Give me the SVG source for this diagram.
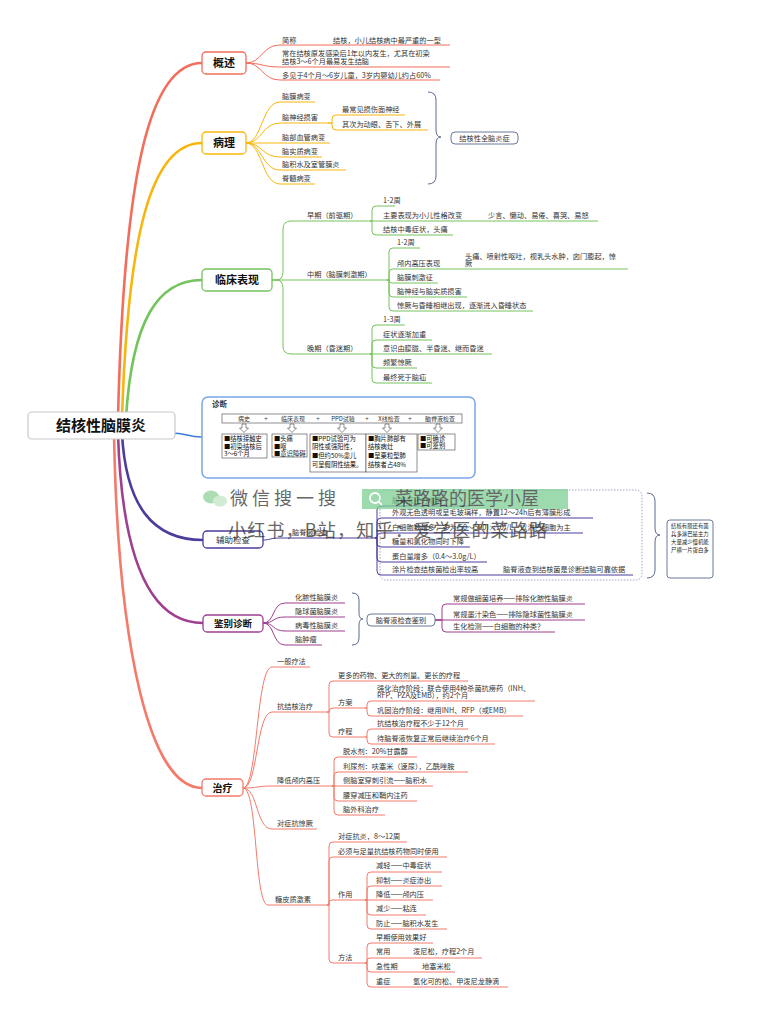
<svg xmlns="http://www.w3.org/2000/svg" width="768" height="1024" viewBox="0 0 768 1024">
<style>
text{font-family:"Noto Sans CJK SC","Noto Sans",sans-serif;fill:#333}
.t{font-size:7.2px}
.s{font-size:6.3px;fill:#111}
.n{font-weight:bold;fill:#111;text-anchor:middle}
.l{fill:none;stroke-width:1}
.m{fill:none;stroke-width:2.6;stroke-linecap:round}
.c1{stroke:#f26d5b}.c2{stroke:#f6b60d}.c3{stroke:#74c35c}.c4{stroke:#3d7bd9}.c5{stroke:#4a3d9c}.c6{stroke:#9e3f8f}.c7{stroke:#f47a6b}
.br{fill:none;stroke:#5d6b8c;stroke-width:1}
.bx{fill:#fff;stroke-width:1.3}
.db{fill:#fff;stroke:#444;stroke-width:0.6}
.k{font-size:5.4px;fill:#222}
</style>
<rect width="768" height="1024" fill="#fff"/>
<g id="connectors">
<path class="m c1" d="M118,418 C124,170 150,63 202,63"/>
<path class="m c2" d="M122,418 C128,230 152,143 202,143"/>
<path class="m c3" d="M126,418 C132,320 158,280 202,280"/>
<path class="m c4" d="M170,433 C188,433 186,437 202,437" style="stroke-width:1.6"/>
<path class="m c5" d="M122,434 C126,505 152,540 203,540"/>
<path class="m c6" d="M118,434 C122,560 150,623 203,623"/>
<path class="m c7" d="M114,434 C118,650 150,788 202,788"/>
<g class="l c1">
<path d="M246,63 C262,63 262,45 280,45 H450"/>
<path d="M246,63 C262,63 262,67 280,67 H450"/>
<path d="M246,63 C262,63 262,80 280,80 H440"/>
</g>
<g class="l c2">
<path d="M246,143 C262,143 262,102 280,102 H315"/>
<path d="M246,143 C262,143 262,123 280,123 H328"/>
<path d="M246,143 H330"/>
<path d="M246,143 C262,143 262,157 280,157 H322"/>
<path d="M246,143 C262,143 262,170 280,170 H346"/>
<path d="M246,143 C262,143 262,184 280,184 H315"/>
<path d="M328,123 H332 V119 Q332,115 336,115 H405"/>
<path d="M328,123 H332 V126 Q332,130 336,130 H428"/>
</g>
<path class="br" d="M428,92 Q436,92 436,100 V130 Q436,137 441,137 Q436,137 436,144 V176 Q436,184 428,184"/>
<g class="l c3">
<path d="M272,280 H276 Q283,280 283,272 V229 Q283,221 291,221 H370"/>
<path d="M272,280 H387"/>
<path d="M272,280 H276 Q283,280 283,288 V346 Q283,354 291,354 H370"/>
<path d="M370,221 H372 V210 Q372,206 376,206 H395"/>
<path d="M370,221 H598"/>
<path d="M370,221 H372 V231 Q372,235 376,235 H453"/>
<path d="M387,280 H389 V252 Q389,248 393,248 H420"/>
<path d="M387,280 H389 V273 Q389,269 393,269 H628"/>
<path d="M387,280 H389 Q389,283 392,283 H438"/>
<path d="M387,280 H389 V293 Q389,297 393,297 H467"/>
<path d="M387,280 H389 V307 Q389,311 393,311 H533"/>
<path d="M370,354 H372 V329 Q372,325 376,325 H405"/>
<path d="M370,354 H372 V344 Q372,340 376,340 H432"/>
<path d="M370,354 H492"/>
<path d="M370,354 H372 V364 Q372,368 376,368 H417"/>
<path d="M370,354 H372 V379 Q372,383 376,383 H432"/>
</g>
<g class="l c5">
<path d="M263,540 C270,540 270,538 280,538 H375"/>
<path d="M375,538 H377 V510 Q377,506 381,506 H470"/>
<path d="M375,538 H377 V522 Q377,518 381,518 H593"/>
<path d="M375,538 H377 V537 Q377,533 381,533 H583"/>
<path d="M375,538 H377 V543 Q377,547 381,547 H470"/>
<path d="M375,538 H377 V558 Q377,562 381,562 H487"/>
<path d="M375,538 H377 V571 Q377,575 381,575 H633"/>
</g>
<path class="br" d="M647,493 Q655,493 655,501 V528 Q655,535 660,535 Q655,535 655,542 V570 Q655,578 647,578"/>
<g class="l c6">
<path d="M263,623 C275,623 272,603 285,603 H345"/>
<path d="M263,623 C275,623 272,617 285,617 H345"/>
<path d="M263,623 C275,623 272,631 285,631 H345"/>
<path d="M263,623 C275,623 272,645 285,645 H322"/>
<path d="M435,620 H442 V608 Q442,604 446,604 H585"/>
<path d="M435,620 H585"/>
<path d="M435,620 H442 V628 Q442,632 446,632 H555"/>
</g>
<path class="br" d="M352,593 Q359,593 359,600 V613 Q359,619 363,619 Q359,619 359,625 V638 Q359,645 352,645"/>
<g class="l c7">
<path d="M243,788 C258,788 256,667 272,667 H310"/>
<path d="M243,788 C258,788 256,712 272,712 H327"/>
<path d="M243,788 C258,788 256,786 272,786 H332"/>
<path d="M243,788 C258,788 256,829 272,829 H317"/>
<path d="M243,788 C258,788 254,905 268,905 H327"/>
<path d="M327,712 H329 V685 Q329,681 333,681 H468"/>
<path d="M327,712 H329 Q329,708 333,708 H365"/>
<path d="M327,712 H329 V733 Q329,737 333,737 H365"/>
<path d="M365,708 H367 V705 Q367,701 371,701 H535"/>
<path d="M365,708 H367 V712 Q367,716 371,716 H523"/>
<path d="M365,737 H367 V733 Q367,729 371,729 H468"/>
<path d="M365,737 H367 V740 Q367,744 371,744 H495"/>
<path d="M332,786 H334 V761 Q334,757 338,757 H417"/>
<path d="M332,786 H334 V776 Q334,772 338,772 H468"/>
<path d="M332,786 H433"/>
<path d="M332,786 H334 V797 Q334,801 338,801 H417"/>
<path d="M332,786 H334 V811 Q334,815 338,815 H385"/>
<path d="M327,905 H329 V846 Q329,842 333,842 H407"/>
<path d="M327,905 H329 V861 Q329,857 333,857 H447"/>
<path d="M327,905 H329 V903 Q329,900 332,900 H365"/>
<path d="M327,905 H329 V959 Q329,963 333,963 H365"/>
<path d="M365,900 H367 V876 Q367,872 371,872 H442"/>
<path d="M365,900 H367 V890 Q367,886 371,886 H442"/>
<path d="M365,900 H433"/>
<path d="M365,900 H367 V911 Q367,915 371,915 H426"/>
<path d="M365,900 H367 V925 Q367,929 371,929 H447"/>
<path d="M365,963 H367 V947 Q367,943 371,943 H433"/>
<path d="M365,963 H367 V961 Q367,958 370,958 H482"/>
<path d="M365,963 H367 V968 Q367,972 371,972 H455"/>
<path d="M365,963 H367 V983 Q367,987 371,987 H508"/>
</g>
</g>

<g id="root">
<rect x="28" y="412" width="147" height="27" rx="4" fill="#fff" stroke="#c8c8c8" stroke-width="1.2"/>
<text class="n" x="101" y="431" font-size="15">结核性脑膜炎</text>
</g>

<g id="gaishu">
<rect class="bx c1" x="202" y="52" width="44" height="22" rx="4"/>
<text class="n" x="224" y="67" font-size="11">概述</text>
<text class="t" x="282" y="43">简称</text>
<text class="t" x="333" y="43">结核，小儿结核病中最严重的一型</text>
<text class="t" x="282" y="56">常在结核原发感染后1年以内发生，尤其在初染</text>
<text class="t" x="282" y="64">结核3～6个月最易发生结脑</text>
<text class="t" x="282" y="78">多见于4个月～6岁儿童，3岁内婴幼儿约占60%</text>
</g>

<g id="bingli">
<rect class="bx c2" x="202" y="132" width="44" height="22" rx="4"/>
<text class="n" x="224" y="147" font-size="11">病理</text>
<text class="t" x="282" y="99">脑膜病变</text>
<text class="t" x="282" y="120">脑神经损害</text>
<text class="t" x="342" y="112">最常见损伤面神经</text>
<text class="t" x="342" y="127">其次为动眼、舌下、外展</text>
<text class="t" x="282" y="140">脑部血管病变</text>
<text class="t" x="282" y="154">脑实质病变</text>
<text class="t" x="282" y="167">脑积水及室管膜炎</text>
<text class="t" x="282" y="181">脊髓病变</text>
<g id="quannao">
<rect x="451" y="132" width="67" height="12" rx="4" fill="#fff" stroke="#6b7a99" stroke-width="1"/>
<text class="t" x="484.5" y="141" text-anchor="middle" font-size="6.5">结核性全脑炎症</text>
</g>
</g>

<g id="linchuang">
<rect class="bx c3" x="202" y="269" width="70" height="22" rx="4"/>
<text class="n" x="237" y="284" font-size="11">临床表现</text>
<text class="t" x="307" y="218">早期（前驱期）</text>
<text class="t" x="383" y="203">1-2周</text>
<text class="t" x="383" y="218">主要表现为小儿性格改变</text>
<text class="t" x="488" y="218">少言、懒动、易倦、喜哭、易怒</text>
<text class="t" x="383" y="232">结核中毒症状，头痛</text>
<text class="t" x="307" y="277">中期（脑膜刺激期）</text>
<text class="t" x="397" y="245">1-2周</text>
<text class="t" x="397" y="266">颅内高压表现</text>
<text class="t" x="465" y="259">头痛、喷射性呕吐，视乳头水肿，囟门膨起，惊</text>
<text class="t" x="465" y="266">厥</text>
<text class="t" x="397" y="280">脑膜刺激征</text>
<text class="t" x="397" y="294">脑神经与脑实质损害</text>
<text class="t" x="397" y="308">惊厥与昏睡相继出现，逐渐进入昏睡状态</text>
<text class="t" x="307" y="351">晚期（昏迷期）</text>
<text class="t" x="383" y="322">1-3周</text>
<text class="t" x="383" y="337">症状逐渐加重</text>
<text class="t" x="383" y="351">意识由朦胧、半昏迷、继而昏迷</text>
<text class="t" x="383" y="365">频繁惊厥</text>
<text class="t" x="383" y="380">最终死于脑疝</text>
</g>

<g id="zhenduan">
<rect x="202" y="397" width="273" height="81" rx="6" fill="#fff" stroke="#7aa6e8" stroke-width="1.5"/>
<text x="212" y="407" font-size="7.5" font-weight="bold" fill="#222">诊断</text>
<rect class="db" x="222" y="414" width="240" height="9"/>
<g font-size="6">
<text x="244" y="421" text-anchor="middle" fill="#111">病史</text>
<text x="266" y="421" text-anchor="middle" fill="#111">+</text>
<text x="293" y="421" text-anchor="middle" fill="#111">临床表现</text>
<text x="318" y="421" text-anchor="middle" fill="#111">+</text>
<text x="343" y="421" text-anchor="middle" fill="#111">PPD试验</text>
<text x="367" y="421" text-anchor="middle" fill="#111">+</text>
<text x="389" y="421" text-anchor="middle" fill="#111">X线检查</text>
<text x="410" y="421" text-anchor="middle" fill="#111">+</text>
<text x="440" y="421" text-anchor="middle" fill="#111">脑脊液检查</text>
</g>
<g class="db">
<path d="M242,424 h4 v4 h2.5 l-4.5,4.5 l-4.5,-4.5 h2.5z"/>
<path d="M290,424 h4 v4 h2.5 l-4.5,4.5 l-4.5,-4.5 h2.5z"/>
<path d="M340,424 h4 v4 h2.5 l-4.5,4.5 l-4.5,-4.5 h2.5z"/>
<path d="M385,424 h4 v4 h2.5 l-4.5,4.5 l-4.5,-4.5 h2.5z"/>
<path d="M436,424 h4 v4 h2.5 l-4.5,4.5 l-4.5,-4.5 h2.5z"/>
</g>
<rect class="db" x="222" y="434" width="45" height="24"/>
<rect class="db" x="272" y="434" width="35" height="23"/>
<rect class="db" x="310" y="434" width="56" height="38"/>
<rect class="db" x="366" y="434" width="51" height="38"/>
<rect class="db" x="418" y="434" width="37" height="16"/>
<text class="s" x="224" y="441">■结核接触史</text>
<text class="s" x="224" y="449">■初染结核后</text>
<text class="s" x="224" y="456">3～6个月</text>
<text class="s" x="274" y="441">■头痛</text>
<text class="s" x="274" y="449">■呕</text>
<text class="s" x="274" y="456">■意识障碍</text>
<text class="s" x="312" y="441">■PPD试验可为</text>
<text class="s" x="312" y="449">阴性或强阳性，</text>
<text class="s" x="312" y="458">■但约50%患儿</text>
<text class="s" x="312" y="467">可呈假阴性结果。</text>
<text class="s" x="368" y="441">■胸片肺部有</text>
<text class="s" x="368" y="449">结核病灶</text>
<text class="s" x="368" y="458">■呈粟粒型肺</text>
<text class="s" x="368" y="467">结核者占48%</text>
<text class="s" x="420" y="441">■可确诊</text>
<text class="s" x="420" y="448">■可鉴别</text>
</g>

<g id="fuzhu">
<rect class="bx c5" x="203" y="531" width="60" height="17" rx="4"/>
<text x="233" y="543" font-size="8.5" text-anchor="middle" fill="#111">辅助检查</text>
<text class="t" x="292" y="535">脑脊液检查</text>
<rect x="380" y="490" width="262" height="90" rx="6" fill="none" stroke="#8a8fb0" stroke-width="0.8" stroke-dasharray="1.5,1.5"/>
<text class="t" x="392" y="503">脑脊液压力增高</text>
<text class="t" x="392" y="515">外观无色透明或呈毛玻璃样，静置12～24h后有薄膜形成</text>
<text class="t" x="392" y="530">白细胞数增多，多为(50～500)×10⁶/L，以淋巴细胞为主</text>
<text class="t" x="392" y="544">糖量和氯化物同时下降</text>
<text class="t" x="392" y="559">蛋白量增多（0.4～3.0g/L）</text>
<text class="t" x="392" y="572">涂片检查结核菌检出率较高</text>
<text class="t" x="503" y="572">脑脊液查到结核菌是诊断结脑可靠依据</text>
<g id="koujue">
<rect x="667" y="520" width="46" height="58" rx="3" fill="#fff" stroke="#6b7a99" stroke-width="1"/>
<text class="k" x="671" y="528">结核有膜还有菌</text>
<text class="k" x="671" y="536">兵多淋巴是主力</text>
<text class="k" x="671" y="544">大量减少慢机能</text>
<text class="k" x="671" y="552">尸横一片蛋白多</text>
</g>
</g>

<g id="jianbie">
<rect class="bx c6" x="203" y="615" width="60" height="17" rx="4"/>
<text class="n" x="233" y="627" font-size="9.5">鉴别诊断</text>
<text class="t" x="295" y="600">化脓性脑膜炎</text>
<text class="t" x="295" y="614">隐球菌脑膜炎</text>
<text class="t" x="295" y="628">病毒性脑膜炎</text>
<text class="t" x="295" y="642">脑肿瘤</text>
<g id="naojiye">
<rect x="367" y="614" width="68" height="12" rx="4" fill="#fff" stroke="#6b7a99" stroke-width="1"/>
<text class="t" x="401" y="623" text-anchor="middle" font-size="6.5">脑脊液检查鉴别</text>
</g>
<text class="t" x="453" y="601">常规做细菌培养——排除化脓性脑膜炎</text>
<text class="t" x="453" y="617">常规墨汁染色——排除隐球菌性脑膜炎</text>
<text class="t" x="453" y="629">生化检测——白细胞的种类？</text>
</g>

<g id="zhiliao">
<rect class="bx c7" x="202" y="779" width="41" height="17" rx="4"/>
<text class="n" x="222.5" y="791.5" font-size="10">治疗</text>
<text class="t" x="277" y="664">一般疗法</text>
<text class="t" x="277" y="709">抗结核治疗</text>
<text class="t" x="338" y="678">更多的药物、更大的剂量、更长的疗程</text>
<text class="t" x="338" y="705">方案</text>
<text class="t" x="377" y="691">强化治疗阶段：联合使用4种杀菌抗痨药（INH、</text>
<text class="t" x="377" y="698">RFP、PZA及EMB），约2个月</text>
<text class="t" x="377" y="713">巩固治疗阶段：继用INH、RFP（或EMB）</text>
<text class="t" x="338" y="734">疗程</text>
<text class="t" x="377" y="726">抗结核治疗程不少于12个月</text>
<text class="t" x="377" y="741">待脑脊液恢复正常后继续治疗6个月</text>
<text class="t" x="277" y="783">降低颅内高压</text>
<text class="t" x="343" y="754">脱水剂：20%甘露醇</text>
<text class="t" x="343" y="769">利尿剂：呋塞米（速尿），乙酰唑胺</text>
<text class="t" x="343" y="783">侧脑室穿刺引流——脑积水</text>
<text class="t" x="343" y="798">腰穿减压和鞘内注药</text>
<text class="t" x="343" y="812">脑外科治疗</text>
<text class="t" x="277" y="826">对症抗惊厥</text>
<text class="t" x="275" y="902">糖皮质激素</text>
<text class="t" x="338" y="839">对症抗炎，8～12周</text>
<text class="t" x="338" y="854">必须与足量抗结核药物同时使用</text>
<text class="t" x="338" y="897">作用</text>
<text class="t" x="376" y="868">减轻——中毒症状</text>
<text class="t" x="376" y="883">抑制——炎症渗出</text>
<text class="t" x="376" y="897">降低——颅内压</text>
<text class="t" x="376" y="911">减少——粘连</text>
<text class="t" x="376" y="926">防止——脑积水发生</text>
<text class="t" x="338" y="960">方法</text>
<text class="t" x="376" y="940">早期使用效果好</text>
<text class="t" x="376" y="954">常用</text>
<text class="t" x="413" y="954">泼尼松，疗程2个月</text>
<text class="t" x="376" y="969">急性期</text>
<text class="t" x="422" y="969">地塞米松</text>
<text class="t" x="376" y="984">重症</text>
<text class="t" x="413" y="984">氢化可的松、甲泼尼龙静滴</text>
</g>

<g id="watermark" opacity="0.75">
<ellipse cx="211" cy="497" rx="8" ry="6.5" fill="#8fd19a"/>
<ellipse cx="220" cy="501" rx="7" ry="5.5" fill="#c4e6c5"/>
<text x="230" y="505" font-size="18" letter-spacing="4" fill="#a8a8a8">微信搜一搜</text>
<rect x="362" y="489" width="206" height="20" fill="#7dcf95"/>
<circle cx="375" cy="498" r="5" fill="none" stroke="#fff" stroke-width="1.8"/>
<path d="M378.5,501.5 L382,505" stroke="#fff" stroke-width="1.8"/>
<text x="395" y="505" font-size="18" fill="#fff">菜路路的医学小屋</text>
<text x="228" y="537" font-size="18" letter-spacing="1.2" fill="#8a8a8a">小红书，B站，知乎：爱学医的菜路路</text>
</g>
</svg>
